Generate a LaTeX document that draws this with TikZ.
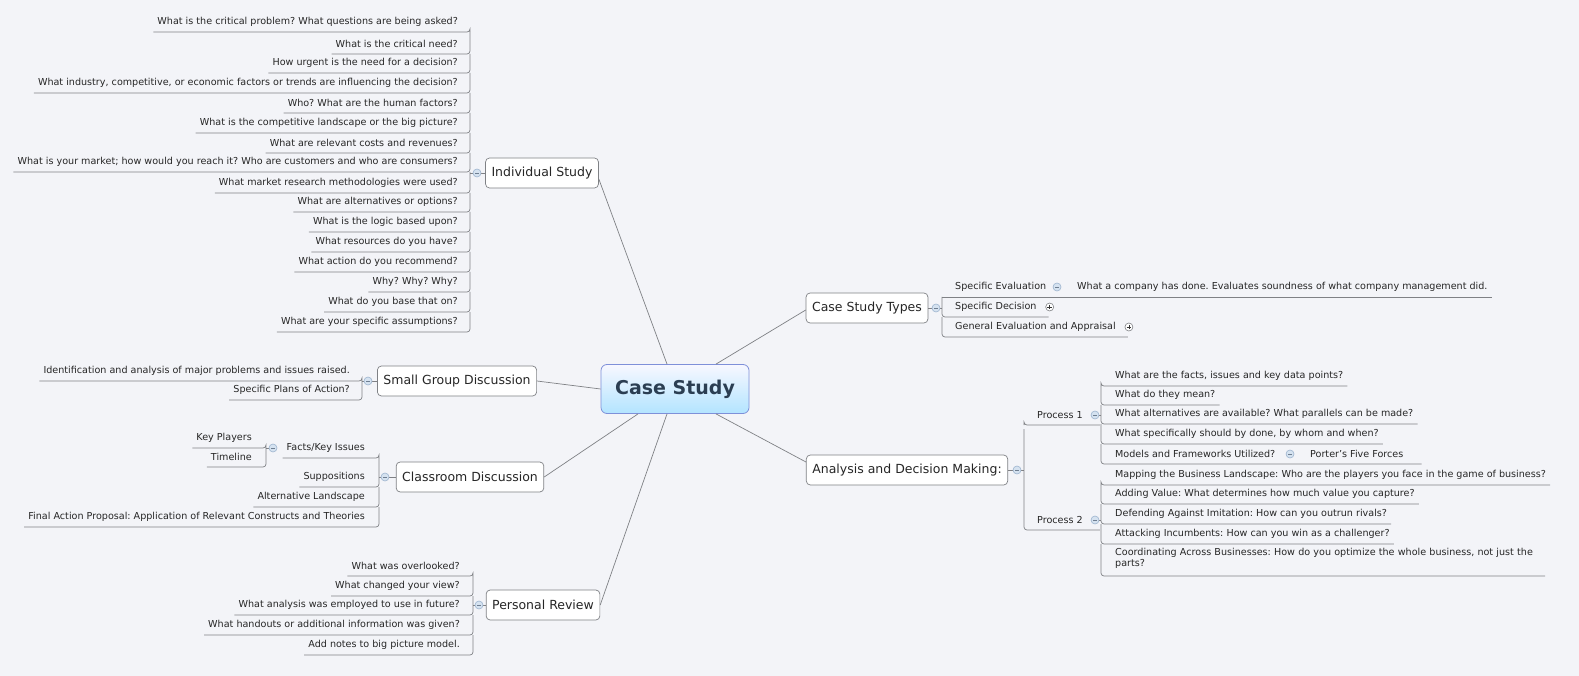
\documentclass[tikz,border=0pt]{standalone}
\usepackage{fontspec}
\setmainfont{DejaVu Sans}
\newfontfamily\ctfont{Liberation Sans}
\usetikzlibrary{calc}
\definecolor{bg}{HTML}{F3F4F8}
\definecolor{ln}{HTML}{7F8185}
\definecolor{mcfill}{HTML}{D5E2F0}
\definecolor{mcdraw}{HTML}{9DB4CF}
\definecolor{ctext}{HTML}{2B3E52}
\tikzset{
 x=1pt,y=-1pt,
 con/.style={draw=ln,line width=0.7pt},
 leaf/.style={inner sep=0pt,font=\fontsize{9.6}{11.5}\selectfont,text=black!85},
 topic/.style={draw=ln,fill=white,rounded corners=4pt,line width=0.7pt,inner xsep=6pt,inner ysep=0pt,minimum height=30pt,font=\fontsize{12.5}{15}\selectfont,text=black!85},
 mc/.pic={\draw[fill=mcfill,draw=mcdraw,line width=0.6pt] (0,0) circle (4pt); \draw[draw=mcdraw!70!black,line width=0.6pt] (-2,0)--(2,0);},
 pc/.pic={\draw[fill=white,draw=ln,line width=0.6pt] (0,0) circle (4pt); \draw[draw=black!80,line width=0.6pt] (-2.3,0)--(2.3,0) (0,-2.3)--(0,2.3);},
}
% left leaf: name, text right x, y, prev y, bracket x, text
\newcommand\LL[6]{\node[leaf,anchor=east] (#1) at (#2,#3) {#6};
 \draw[con,rounded corners=3pt] ($(#1.west)+(-4,10)$) -- (#5,#3+10) -- (#5,#4+10);}
% right leaf: name, text left x, y, prev y, bracket x, text, extension
\newcommand\RL[7]{\node[leaf,anchor=west] (#1) at (#2,#3) {#6};
 \draw[con,rounded corners=3pt] ($(#1.east)+(#7,10)$) -- (#5,#3+10) -- (#5,#4+10);}
\frenchspacing
\begin{document}
\begin{tikzpicture}
\fill[bg] (0,0) rectangle (1579,676);
\useasboundingbox (0,0) rectangle (1579,676);

% center
\node[draw=mcdraw!80!blue,top color=blue!3!white,bottom color=blue!35!cyan!30!white,rounded corners=6pt,line width=0.8pt,minimum width=148pt,minimum height=49pt,font=\fontsize{19}{22}\selectfont\bfseries,text=ctext] (c) at (675,389) {Case Study};

% topics
\node[topic] (is) at (542,173) {Individual Study};
\node[topic] (sg) at (457,381) {Small Group Discussion};
\node[topic] (cd) at (470,477) {Classroom Discussion};
\node[topic] (pr) at (543,605) {Personal Review};
\node[topic] (ct) at (867,308) {Case Study Types};
\node[topic] (ad) at (907,470) {Analysis and Decision Making:};

\draw[con] ($(c.north)+(-8,0)$) -- ($(is.east)+(0,6)$);
\draw[con] (c.west) -- (sg.east);
\draw[con] ($(c.south)+(-37,0)$) -- (cd.east);
\draw[con] ($(c.south)+(-8,0)$) -- (pr.east);
\draw[con] ($(c.north)+(41,0)$) -- ($(ct.west)+(0,2)$);
\draw[con] ($(c.south)+(41,0)$) -- ($(ad.west)+(0,-8)$);

% Individual Study
\LL{i1}{458}{22}{22}{470}{What is the critical problem? What questions are being asked?}
\LL{i2}{458}{44}{22}{470}{What is the critical need?}
\LL{i3}{458}{63}{44}{470}{How urgent is the need for a decision?}
\LL{i4}{458}{83}{63}{470}{What industry, competitive, or economic factors or trends are influencing the decision?}
\LL{i5}{458}{103}{83}{470}{Who? What are the human factors?}
\LL{i6}{458}{123}{103}{470}{What is the competitive landscape or the big picture?}
\LL{i7}{458}{143}{123}{470}{What are relevant costs and revenues?}
\LL{i8}{458}{162}{143}{470}{What is your market; how would you reach it? Who are customers and who are consumers?}
\LL{i9}{458}{183}{162}{470}{What market research methodologies were used?}
\LL{i10}{458}{202}{183}{470}{What are alternatives or options?}
\LL{i11}{458}{222}{202}{470}{What is the logic based upon?}
\LL{i12}{458}{242}{222}{470}{What resources do you have?}
\LL{i13}{458}{262}{242}{470}{What action do you recommend?}
\LL{i14}{458}{282}{262}{470}{Why? Why? Why?}
\LL{i15}{458}{302}{282}{470}{What do you base that on?}
\LL{i16}{458}{322}{302}{470}{What are your specific assumptions?}
\draw[con] (is.west) -- (470,173);
\pic at (477,173) {mc};

% Small group
\LL{s1}{350}{371}{371}{362}{Identification and analysis of major problems and issues raised.}
\LL{s2}{350}{390}{371}{362}{Specific Plans of Action?}
\draw[con] (sg.west) -- (362,381);
\pic at (368,381) {mc};

% Classroom
\LL{k1}{365}{448}{448}{379}{Facts/Key Issues}
\LL{k2}{365}{477}{448}{379}{Suppositions}
\LL{k3}{365}{497}{477}{379}{Alternative Landscape}
\LL{k4}{365}{517}{497}{379}{Final Action Proposal: Application of Relevant Constructs and Theories}
\draw[con] (cd.west) -- (379,477);
\pic at (385,477) {mc};
\LL{kp}{252}{438}{438}{266}{Key Players}
\LL{tl}{252}{457}{438}{266}{Timeline}
\coordinate (k1c) at (273,448);
\draw[con] (k1c) -- (266,448);
\pic at (k1c) {mc};

% Personal review
\LL{p1}{460}{566}{566}{473}{What was overlooked?}
\LL{p2}{460}{586}{566}{473}{What changed your view?}
\LL{p3}{460}{605}{586}{473}{What analysis was employed to use in future?}
\LL{p4}{460}{625}{605}{473}{What handouts or additional information was given?}
\LL{p5}{460}{645}{625}{473}{Add notes to big picture model.}
\draw[con] (pr.west) -- (473,605);
\pic at (479,605) {mc};

% Case Study Types
\node[leaf,anchor=west] (t1) at (955,287) {Specific Evaluation};
\node[leaf,anchor=west] (t1d) at (1077,287) {What a company has done. Evaluates soundness of what company management did.};
\draw[con] ($(t1d.east)+(4,10)$) -- (942,297);
\pic at (1057,287) {mc};
\RL{t2}{955}{307}{287}{942}{Specific Decision}{12}
\pic at ($(t2.east)+(13,0)$) {pc};
\RL{t3}{955}{327}{307}{942}{General Evaluation and Appraisal}{12}
\pic at ($(t3.east)+(13,0)$) {pc};
\draw[con] (ct.east) -- (942,308);
\pic at (936,308) {mc};

% Analysis
\RL{q1}{1037}{415}{415}{1024}{Process 1}{17}
\RL{q2}{1037}{520}{419}{1024}{Process 2}{17}
\draw[con] (ad.east) -- (1024,470);
\pic at (1017,470) {mc};
\coordinate (q1c) at (1095,415);
\coordinate (q2c) at (1095,520);
\draw[con] (q1c) -- (1101,415);
\pic at (q1c) {mc};
\draw[con] (q2c) -- (1101,520);
\pic at (q2c) {mc};

\RL{a1}{1115}{376}{376}{1101}{What are the facts, issues and key data points?}{4}
\RL{a2}{1115}{395}{376}{1101}{What do they mean?}{4}
\RL{a3}{1115}{414}{395}{1101}{What alternatives are available? What parallels can be made?}{4}
\RL{a4}{1115}{434}{414}{1101}{What specifically should by done, by whom and when?}{4}
\node[leaf,anchor=west] (a5) at (1115,454) {Models and Frameworks Utilized?};
\node[leaf,anchor=west] (a5d) at (1310,454) {Porter's Five Forces};
\draw[con,rounded corners=3pt] ($(a5d.east)+(18,10)$) -- (1101,464) -- (1101,444);
\pic at (1290,454) {mc};

\RL{b1}{1115}{475}{475}{1101}{Mapping the Business Landscape: Who are the players you face in the game of business?}{4}
\RL{b2}{1115}{494}{475}{1101}{Adding Value: What determines how much value you capture?}{4}
\RL{b3}{1115}{514}{494}{1101}{Defending Against Imitation: How can you outrun rivals?}{4}
\RL{b4}{1115}{534}{514}{1101}{Attacking Incumbents: How can you win as a challenger?}{4}
\node[leaf,anchor=north west,text width=420pt,align=left] (b5) at (1115,548) {Coordinating Across Businesses: How do you optimize the whole business, not just the parts?};
\draw[con,rounded corners=3pt] (1545,576) -- (1101,576) -- (1101,544);
\end{tikzpicture}
\end{document}
